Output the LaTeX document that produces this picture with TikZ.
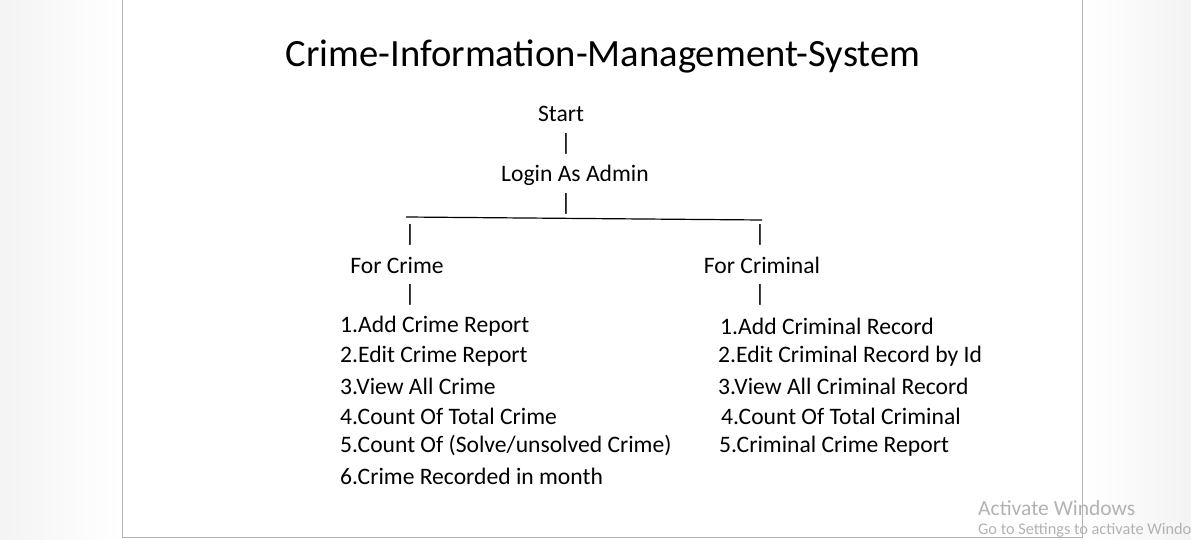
\documentclass[tikz,border=0pt]{standalone}
\usepackage{fontspec}
\setmainfont{Carlito}
\begin{document}
\begin{tikzpicture}[x=1pt,y=-1pt,
  txt/.style={inner sep=0pt,font=\fontsize{23.6}{28}\selectfont},
  item/.style={txt,anchor=west},
  bar/.style={txt}]
\useasboundingbox (0,0) rectangle (1191,540);
\shade[left color=gray!9,right color=white] (0,0) rectangle (122,540);
\shade[left color=white,right color=gray!9] (1082,0) rectangle (1191,540);
\draw[gray!60,line width=0.8pt] (122,0) -- (122,537) -- (1082,537) -- (1082,0);
\node[txt,font=\fontsize{38.6}{44}\selectfont] (title) at (603,56) {Crime-Information-Management-System};
\node[txt] (start) at (561,114) {Start};
\node[bar] (b1) at (566,144) {|};
\node[txt] (login) at (575,175) {Login As Admin};
\node[bar] (b2) at (566,204) {|};
\coordinate (l) at (406,217);
\coordinate (r) at (762,220);
\draw[line width=1.2pt] (l) -- (r);
\node[bar] (b3) at (410,235) {|};
\node[bar] (b4) at (760,235) {|};
\node[txt] (crime) at (397,265) {For Crime};
\node[txt] (criminal) at (762,265) {For Criminal};
\node[bar] (b5) at (410,295) {|};
\node[bar] (b6) at (760,295) {|};
\node[item] (c1) at (340,326) {1.Add Crime Report};
\node[item] (c2) at (340,356) {2.Edit Crime Report};
\node[item] (c3) at (340,386) {3.View All Crime};
\node[item] (c4) at (340,416) {4.Count Of Total Crime};
\node[item] (c5) at (340,446) {5.Count Of (Solve/unsolved Crime)};
\node[item] (c6) at (340,476) {6.Crime Recorded in month};
\node[item] (d1) at (720,326) {1.Add Criminal Record};
\node[item] (d2) at (718,356) {2.Edit Criminal Record by Id};
\node[item] (d3) at (718,386) {3.View All Criminal Record};
\node[item] (d4) at (721,416) {4.Count Of Total Criminal};
\node[item] (d5) at (719,446) {5.Criminal Crime Report};
\node[item,text=gray!60,font=\fontsize{21.5}{24}\selectfont] (aw) at (978,508) {Activate Windows};
\node[item,text=gray!60,font=\fontsize{16.3}{20}\selectfont] (gs) at (978,530) {Go to Settings to activate Windo};
\end{tikzpicture}
\end{document}
